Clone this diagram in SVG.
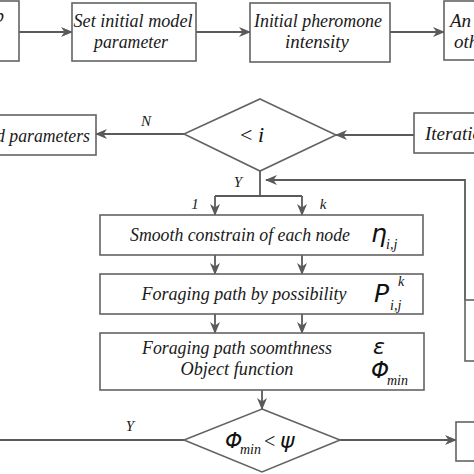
<svg xmlns="http://www.w3.org/2000/svg" width="474" height="474" viewBox="0 0 474 474">
<defs>
<style>
.box{fill:#fff;stroke:#636363;stroke-width:1.6}
.ln{fill:none;stroke:#5a5a5a;stroke-width:1.8}
.t{font-family:"Liberation Serif",serif;font-style:italic;font-size:19px;fill:#1a1a1a}
.lb{font-family:"Liberation Serif",serif;font-style:italic;font-size:15px;fill:#1a1a1a}
.m{font-family:"DejaVu Sans","Liberation Sans",sans-serif;font-style:italic;font-size:25px;fill:#111}
.s{font-family:"Liberation Serif",serif;font-style:italic;font-size:14px;fill:#111}
</style>
<marker id="ah" viewBox="0 0 12 10" refX="11" refY="5" markerWidth="12" markerHeight="10" markerUnits="userSpaceOnUse" orient="auto">
<path d="M0,0 L12,5 L0,10 L3.5,5 z" fill="#5a5a5a"/>
</marker>
</defs>

<g id="connectors">
<line class="ln" x1="19" y1="32" x2="72" y2="32" marker-end="url(#ah)"/>
<line class="ln" x1="196" y1="32" x2="250" y2="32" marker-end="url(#ah)"/>
<line class="ln" x1="390" y1="32" x2="444" y2="32" marker-end="url(#ah)"/>
<line class="ln" x1="184" y1="134" x2="96" y2="134" marker-end="url(#ah)"/>
<line class="ln" x1="414" y1="135" x2="336" y2="135" marker-end="url(#ah)"/>
<polyline class="ln" points="260,171 260,196"/>
<polyline class="ln" points="215,196 302,196"/>
<line class="ln" x1="215" y1="196" x2="215" y2="215" marker-end="url(#ah)"/>
<line class="ln" x1="302" y1="196" x2="302" y2="215" marker-end="url(#ah)"/>
<polyline class="ln" points="465,300 465,180 266,180" marker-end="url(#ah)"/>
<line class="ln" x1="215" y1="255" x2="215" y2="274" marker-end="url(#ah)"/>
<line class="ln" x1="302" y1="255" x2="302" y2="274" marker-end="url(#ah)"/>
<line class="ln" x1="215" y1="314" x2="215" y2="333" marker-end="url(#ah)"/>
<line class="ln" x1="302" y1="314" x2="302" y2="333" marker-end="url(#ah)"/>
<line class="ln" x1="262" y1="390" x2="262" y2="409" marker-end="url(#ah)"/>
<line class="ln" x1="184" y1="440" x2="0" y2="440"/>
<line class="ln" x1="340" y1="440" x2="456" y2="440" marker-end="url(#ah)"/>
<text class="lb" x="146" y="126" text-anchor="middle">N</text>
<text class="lb" x="238" y="187" text-anchor="middle">Y</text>
<text class="lb" x="195" y="209" text-anchor="middle">1</text>
<text class="lb" x="323" y="209" text-anchor="middle">k</text>
<text class="lb" x="130" y="431" text-anchor="middle">Y</text>
</g>

<g id="start">
<rect class="box" x="-20" y="1" width="39" height="60"/>
<text class="t" x="4" y="22" text-anchor="end">p</text>
</g>

<g id="set-params">
<rect class="box" x="72" y="3" width="124" height="58"/>
<text class="t" x="133" y="27" text-anchor="middle" textLength="119" lengthAdjust="spacingAndGlyphs">Set initial model</text>
<text class="t" x="131" y="48" text-anchor="middle" textLength="74" lengthAdjust="spacingAndGlyphs">parameter</text>
</g>

<g id="pheromone">
<rect class="box" x="250" y="3" width="140" height="59"/>
<text class="t" x="318" y="27" text-anchor="middle" textLength="128" lengthAdjust="spacingAndGlyphs">Initial pheromone</text>
<text class="t" x="317" y="48" text-anchor="middle" textLength="64" lengthAdjust="spacingAndGlyphs">intensity</text>
</g>

<g id="ants">
<rect class="box" x="444" y="1" width="60" height="59"/>
<text class="t" x="450" y="27">An</text>
<text class="t" x="454" y="48">oth</text>
</g>

<g id="iter-check">
<polygon class="box" points="260,99 336,135 260,171 184,134"/>
<text x="240" y="142" style="font-family:'Liberation Serif',serif;font-size:22px;fill:#111">&lt; <tspan font-style="italic">i</tspan></text>
</g>

<g id="update-params">
<rect class="box" x="-20" y="115" width="116" height="40"/>
<text class="t" x="-4" y="142" textLength="94" lengthAdjust="spacingAndGlyphs">d parameters</text>
</g>

<g id="iteration">
<rect class="box" x="414" y="113" width="80" height="40"/>
<text class="t" x="425" y="140">Iteration</text>
</g>

<g id="smooth">
<rect class="box" x="100" y="215" width="323" height="40"/>
<text class="t" x="240" y="241" text-anchor="middle" textLength="220" lengthAdjust="spacingAndGlyphs">Smooth constrain of each node</text>
<text class="m" x="371" y="242">η</text>
<text class="s" x="386" y="249">i,j</text>
</g>

<g id="foraging">
<rect class="box" x="100" y="274" width="323" height="40"/>
<text class="t" x="244" y="300" text-anchor="middle" textLength="205" lengthAdjust="spacingAndGlyphs">Foraging path by possibility</text>
<text class="m" x="374" y="302">P</text>
<text class="s" x="390" y="310">i,j</text>
<text class="s" x="398" y="286">k</text>
</g>

<g id="smoothness">
<rect class="box" x="100" y="333" width="324" height="57"/>
<text class="t" x="237" y="354" text-anchor="middle" textLength="190" lengthAdjust="spacingAndGlyphs">Foraging path soomthness</text>
<text class="t" x="237" y="375" text-anchor="middle" textLength="113" lengthAdjust="spacingAndGlyphs">Object function</text>
<text class="m" x="373" y="354" style="font-size:22px">ε</text>
<text class="m" x="371" y="378" style="font-size:23px">Φ</text>
<text class="s" x="387" y="385">min</text>
</g>

<g id="phi-check">
<polygon class="box" points="262,409 340,440 262,472 184,440"/>
<text class="m" x="225" y="448" style="font-size:22px">Φ</text>
<text class="s" x="240" y="454">min</text>
<text x="264" y="448" style="font-family:'Liberation Serif',serif;font-size:20px;fill:#111">&lt;</text>
<text class="m" x="280" y="448" style="font-size:22px">ψ</text>
</g>

<g id="right-top">
<rect class="box" x="465" y="300" width="30" height="61"/>
</g>

<g id="right-bottom">
<rect class="box" x="456" y="422" width="40" height="39"/>
</g>
</svg>
